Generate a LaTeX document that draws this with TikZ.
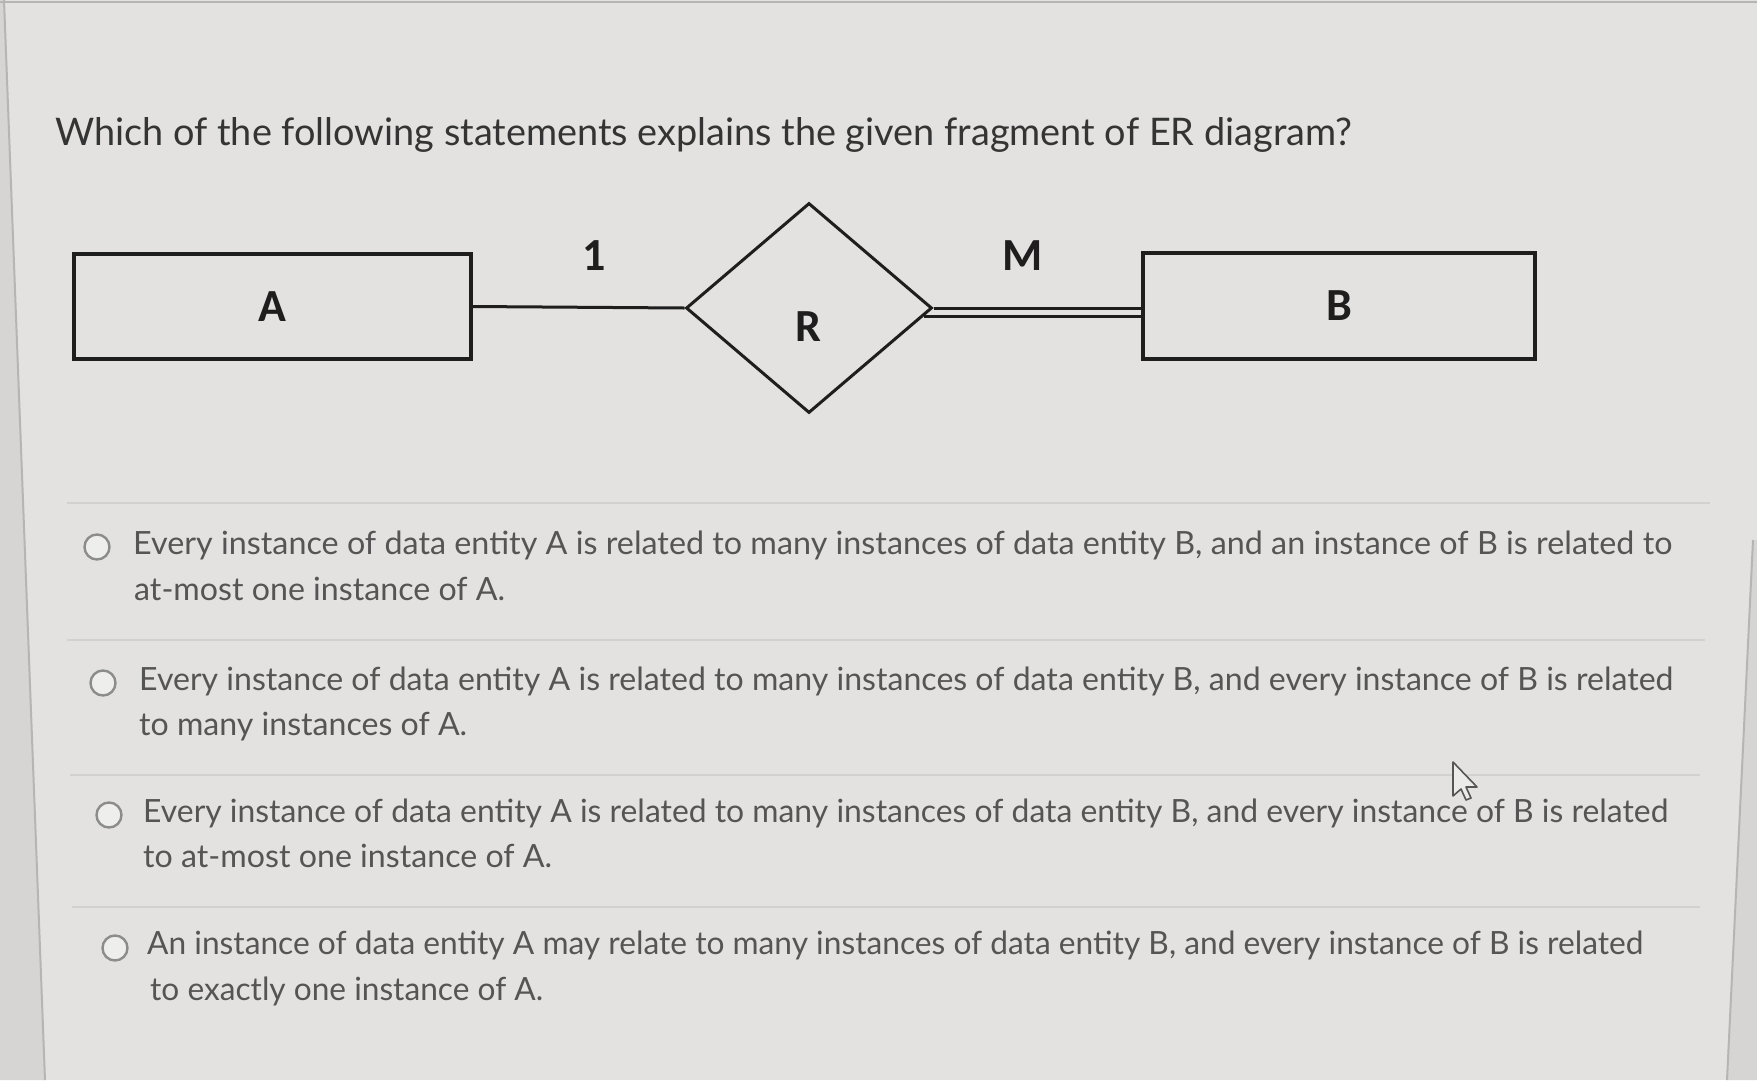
\documentclass[tikz,border=0pt]{standalone}
\usepackage{graphicx}
\usepackage{fontspec}
\setmainfont{Lato}
\newfontfamily\diafont{Carlito}
\usetikzlibrary{shapes.geometric,calc}
\definecolor{bgc}{HTML}{E3E2E1}
\definecolor{edgec}{HTML}{D6D5D4}
\definecolor{inkc}{HTML}{1E1E1E}
\definecolor{titlec}{HTML}{343434}
\definecolor{optc}{HTML}{555555}
\definecolor{radioc}{HTML}{8C8C8C}
\definecolor{sepc}{HTML}{D2D1D0}
\tikzset{
  entity/.style={draw=inkc, line width=3.2pt, rectangle, inner sep=0pt,
    text=inkc, font=\diafont\bfseries\fontsize{46}{50}\selectfont},
  relbox/.style={draw=inkc, line width=3pt, diamond, inner sep=0pt},
  card/.style={text=inkc, inner sep=0pt, font=\diafont\bfseries\fontsize{46}{50}\selectfont},
  conn/.style={draw=inkc, line width=3pt},
  title/.style={anchor=base west, inner sep=0pt, text=titlec, font=\fontsize{38}{44}\selectfont},
  opt/.style={anchor=base west, inner sep=0pt, text=optc, font=\fontsize{32}{38}\selectfont},
  radio/.style={circle, draw=radioc, line width=2.4pt, fill=bgc!60!white, minimum size=25pt, inner sep=0pt},
  sep/.style={draw=sepc, line width=1.5pt},
  border/.style={draw=edgec!85!black, line width=2pt}
}
\begin{document}
\begin{tikzpicture}[x=1pt,y=-1pt]
\useasboundingbox (0,0) rectangle (1757,1080);
% background
\fill[bgc] (0,0) rectangle (1757,1080);
\fill[edgec] (0,0) -- (4,0) -- (45,1080) -- (0,1080) -- cycle;
\fill[edgec] (1757,540) -- (1753,540) -- (1727,1080) -- (1757,1080) -- cycle;
\draw[border] (0,2) -- (1757,2);
\draw[border] (4,0) -- (45,1080);
\draw[border] (1753,540) -- (1727,1080);

% title
\node[title] (title) at (55,145) {\resizebox{1297pt}{\height}{Which of the following statements explains the given fragment of ER diagram?}};

% diagram
\node[entity, minimum width=397pt, minimum height=105pt] (A) at (272.5,306.5) {A};
\node[relbox, minimum width=246pt, minimum height=210pt] (R) at (809,308) {};
\node[card] (Rl) at (808,327) {R};
\node[entity, minimum width=392pt, minimum height=106pt] (B) at (1339,306) {B};
\node[card] (one) at (594,256) {1};
\node[card] (many) at (1023,256) {M};
\draw[conn] (A.east) -- (R.west);
\draw[conn] (R.east) -- (R.east -| B.west);
\draw[conn] (R.-4.5) -- (R.-4.5 -| B.west);

% separators
\draw[sep] (67,503) -- (1710,503);
\draw[sep] (67,640) -- (1705,640);
\draw[sep] (70,775) -- (1700,775);
\draw[sep] (72,907) -- (1700,907);

% option 1
\node[radio] (r1) at (97,547) {};
\node[opt] (o1a) at (133,554) {\resizebox{1539pt}{\height}{Every instance of data entity A is related to many instances of data entity B, and an instance of B is related to}};
\node[opt] (o1b) at (134,600) {\resizebox{371pt}{\height}{at-most one instance of A.}};

% option 2
\node[radio] (r2) at (103,683) {};
\node[opt] (o2a) at (139,690) {\resizebox{1534pt}{\height}{Every instance of data entity A is related to many instances of data entity B, and every instance of B is related}};
\node[opt] (o2b) at (139,735) {\resizebox{328pt}{\height}{to many instances of A.}};

% option 3
\node[radio] (r3) at (109,815) {};
\node[opt] (o3a) at (143,822) {\resizebox{1525pt}{\height}{Every instance of data entity A is related to many instances of data entity B, and every instance of B is related}};
\node[opt] (o3b) at (143,867) {\resizebox{409pt}{\height}{to at-most one instance of A.}};

% option 4
\node[radio] (r4) at (115,948) {};
\node[opt] (o4a) at (147,954) {\resizebox{1496pt}{\height}{An instance of data entity A may relate to many instances of data entity B, and every instance of B is related}};
\node[opt] (o4b) at (150,1000) {\resizebox{393pt}{\height}{to exactly one instance of A.}};

% mouse cursor
\draw[draw=optc, fill=bgc!70!white, line width=1.6pt, line join=round]
  (1453,762) -- (1453,796) -- (1461,789) -- (1466,800) -- (1471,798) -- (1466,787) -- (1477,787) -- cycle;
\end{tikzpicture}
\end{document}
